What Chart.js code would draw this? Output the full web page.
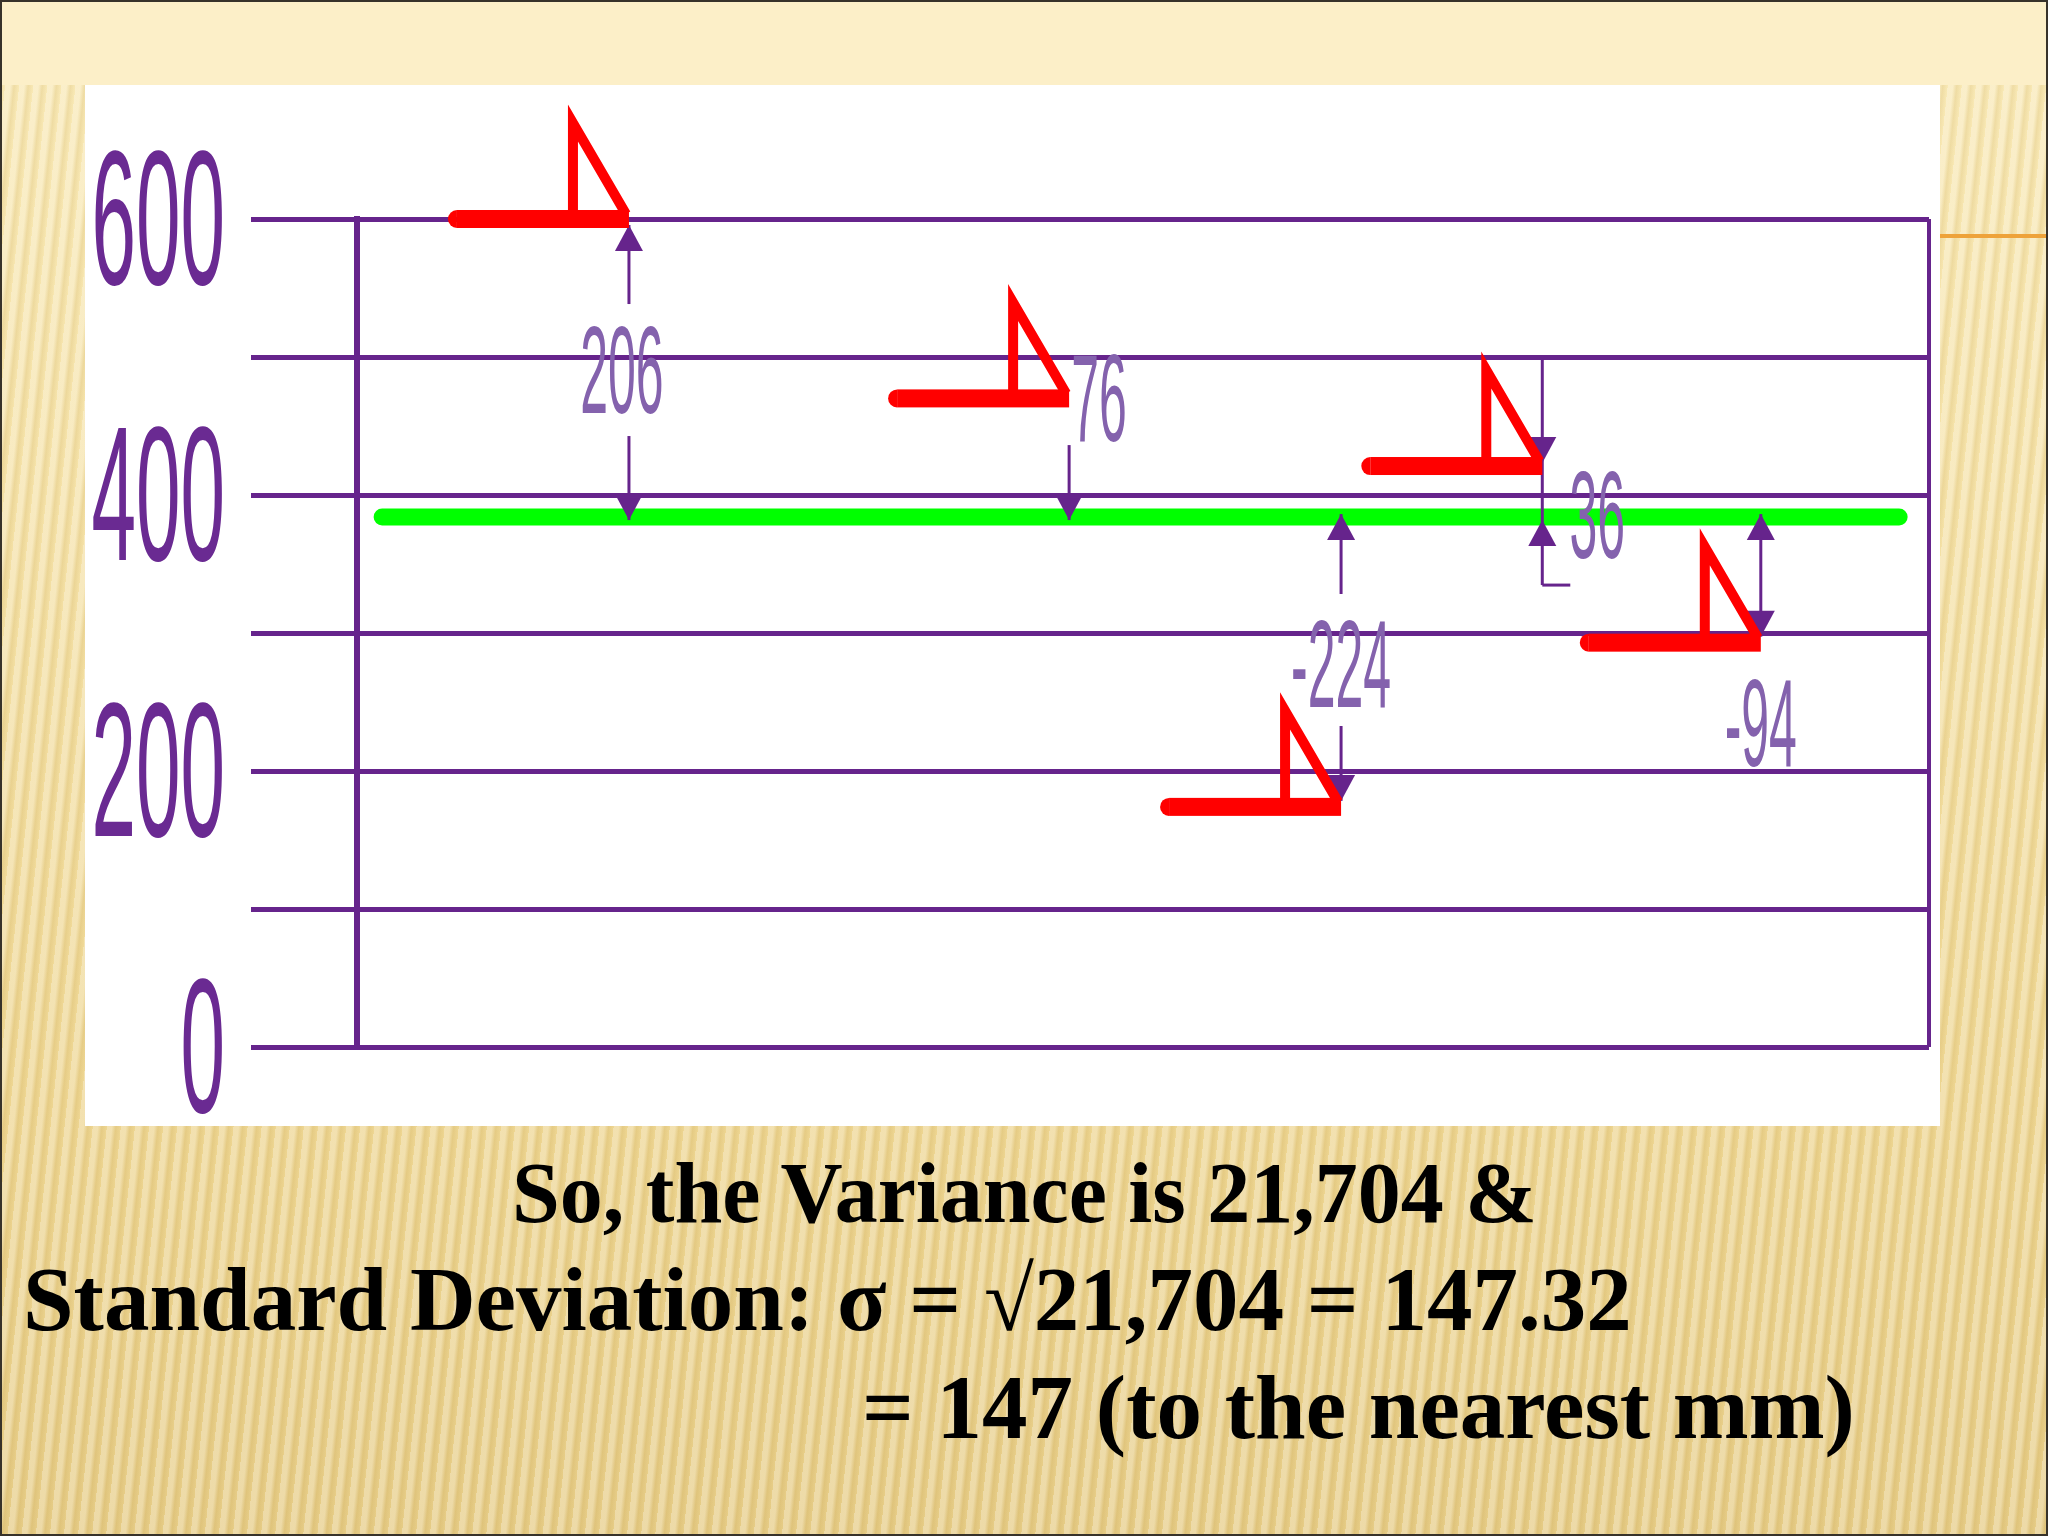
<!DOCTYPE html>
<html>
<head>
<meta charset="utf-8">
<script src="https://cdn.jsdelivr.net/npm/chart.js@4.4.1/dist/chart.umd.min.js"></script>
<style>
  html, body { margin: 0; padding: 0; }
  body {
    width: 2048px;
    height: 1536px;
    position: relative;
    overflow: hidden;
    background:
      repeating-linear-gradient(96deg, rgba(255,255,255,0.28) 0px, rgba(255,255,255,0.28) 5px, rgba(170,130,40,0.12) 9px, rgba(255,255,255,0) 14px),
      linear-gradient(180deg, #f9eab8 0px, #f5e2a8 500px, #eed692 1100px, #e6cc86 1536px);
  }
  #topband { position: absolute; left: 0; top: 0; width: 2048px; height: 85px; background: #fcefc8; }
  #orange { position: absolute; left: 1940px; top: 234px; width: 108px; height: 4px; background: #eea33a; }
  #panel { position: absolute; left: 85px; top: 85px; width: 1855px; height: 1041px; background: #ffffff; }
  #chart { position: absolute; left: 0; top: 0; }
  #frame { position: absolute; left: 0; top: 0; width: 2044px; height: 1532px; border: 2px solid #37322a; pointer-events: none; }
  .txt {
    position: absolute;
    font-family: "Liberation Serif", "Times New Roman", serif;
    font-weight: bold;
    white-space: nowrap;
    line-height: 1;
    color: #000;
  }
</style>
</head>
<body>
<div id="topband"></div>
<div id="orange"></div>
<div id="panel"></div>
<canvas id="chart" width="2048" height="1536"></canvas>
<div class="txt" style="left:512px; top:1150px; font-size:86px;">So, the Variance is 21,704 &amp;</div>
<div class="txt" style="left:23px; top:1254px; font-size:91px;">Standard Deviation: σ = √21,704 = 147.32</div>
<div class="txt" style="left:862px; top:1362px; font-size:91px;">= 147 (to the nearest mm)</div>
<div id="frame"></div>
<script>
// dog heights (mm) as drawn, position of each dog along the line (0-100)
const dogHeights = [600, 470, 174, 421, 293];
const dogPositions = [17.3, 45.3, 62.6, 75.4, 89.3];
const deviationLabels = ["206", "76", "-224", "36", "-94"];
const meanHeight = 384;
const yTickLabels = [0, 200, 400, 600];
const gridStep = 100;

const PURPLE = "#66248c";
const LABEL_PURPLE = "#8462ad";
const RED = "#ff0000";
const GREEN = "#00ff00";

// how each deviation arrow is laid out (pixels)
const arrowLayout = [
  { kind: "split", labelDx: -7 },
  { kind: "right", labelDx: 30, labelDy: -2 },
  { kind: "split", labelDx: 0 },
  { kind: "outside", labelDx: 55, labelDy: -4 },
  { kind: "below", labelDx: 0, labelDy: 79 },
];

const canvas = document.querySelector("#chart");

// tall, narrow digits like the stretched labels on the slide
const drawTall = (ctx, text, x, cy, size, sy, align, color, weight) => {
  ctx.save();
  ctx.translate(x, cy + 0.358 * size * sy);
  ctx.scale(1, sy);
  ctx.font = (weight || 400) + " " + size + 'px "Liberation Sans", Arial, sans-serif';
  ctx.textAlign = align;
  ctx.textBaseline = "alphabetic";
  ctx.fillStyle = color;
  ctx.fillText(text, 0, 0);
  ctx.restore();
};

const arrowHead = (ctx, x, tipY, dir) => {
  // dir -1 points up, 1 points down
  ctx.beginPath();
  ctx.moveTo(x, tipY);
  ctx.lineTo(x - 14, tipY - dir * 26);
  ctx.lineTo(x + 14, tipY - dir * 26);
  ctx.closePath();
  ctx.fill();
};

const vline = (ctx, x, y1, y2) => {
  ctx.beginPath();
  ctx.moveTo(x, y1);
  ctx.lineTo(x, y2);
  ctx.stroke();
};

const drawDog = (ctx, ax, by) => {
  ctx.save();
  ctx.fillStyle = RED;
  ctx.strokeStyle = RED;
  ctx.fillRect(ax - 172, by - 9, 172, 18);
  ctx.beginPath();
  ctx.arc(ax - 172, by, 9, Math.PI / 2, Math.PI * 1.5);
  ctx.fill();
  ctx.lineWidth = 10;
  ctx.lineJoin = "miter";
  ctx.miterLimit = 10;
  ctx.beginPath();
  ctx.moveTo(ax - 56, by - 5);
  ctx.lineTo(ax - 56, by - 96);
  ctx.lineTo(ax - 3, by - 5);
  ctx.stroke();
  ctx.restore();
};

const drawArrow = (ctx, x, d, m, layout, text) => {
  const s = Math.sign(m - d);
  ctx.save();
  ctx.strokeStyle = PURPLE;
  ctx.fillStyle = PURPLE;
  ctx.lineWidth = 3;
  const tipD = d + s * 6;
  const tipM = m + s * 3;
  const lx = x + (layout.labelDx || 0);
  let ly;
  if (layout.kind === "split") {
    const mid = (d + m) / 2;
    vline(ctx, x, tipD, mid - 64 * s);
    vline(ctx, x, mid + 68 * s, tipM);
    arrowHead(ctx, x, tipD, -s);
    arrowHead(ctx, x, tipM, s);
    ly = mid;
  } else if (layout.kind === "right") {
    vline(ctx, x, m - 72 * s, tipM);
    arrowHead(ctx, x, tipM, s);
    ly = d + layout.labelDy;
  } else if (layout.kind === "outside") {
    vline(ctx, x, d - 107 * s, m + 68 * s);
    ctx.beginPath();
    ctx.moveTo(x, m + 68 * s);
    ctx.lineTo(x + 28, m + 68 * s);
    ctx.stroke();
    arrowHead(ctx, x, d - 3 * s, s);
    arrowHead(ctx, x, tipM, -s);
    ly = m + layout.labelDy;
  } else {
    vline(ctx, x, tipD, tipM);
    arrowHead(ctx, x, tipD, -s);
    arrowHead(ctx, x, tipM, s);
    ly = d + layout.labelDy;
  }
  ctx.restore();
  drawTall(ctx, text, lx, ly, 50, 2.5, "center", LABEL_PURPLE, 400);
};

const dogPlugin = {
  id: "dogs",
  afterDatasetsDraw(chart) {
    const ctx = chart.ctx;
    const yScale = chart.scales.y;
    const meta = chart.getDatasetMeta(1);
    const m = yScale.getPixelForValue(meanHeight);
    meta.data.forEach((pt, i) => {
      drawArrow(ctx, pt.x, pt.y, m, arrowLayout[i], deviationLabels[i]);
    });
    meta.data.forEach((pt) => drawDog(ctx, pt.x, pt.y));
    // tall y tick labels
    yTickLabels.forEach((v) => {
      drawTall(ctx, String(v), 225, yScale.getPixelForValue(v) - 4, 80, 2.4, "right", "#6a2a92", 400);
    });
  },
};

const dogChart = new Chart(canvas, {
  type: "scatter",
  data: {
    datasets: [
      {
        type: "line",
        label: "mean",
        data: [
          { x: 1.6, y: meanHeight },
          { x: 98.1, y: meanHeight },
        ],
        borderColor: GREEN,
        borderWidth: 17,
        borderCapStyle: "round",
        pointRadius: 0,
        clip: false,
      },
      {
        label: "dogs",
        data: dogPositions.map((x, i) => ({ x: x, y: dogHeights[i] })),
        pointRadius: 0,
        clip: false,
      },
    ],
  },
  options: {
    responsive: false,
    animation: false,
    devicePixelRatio: 1,
    layout: { padding: { left: 85, top: 219, right: 119, bottom: 489 } },
    plugins: {
      legend: { display: false },
      tooltip: { enabled: false },
    },
    scales: {
      x: {
        type: "linear",
        min: 0,
        max: 100,
        ticks: { display: false, stepSize: 100 },
        grid: {
          color: (c) => (c.tick && c.tick.value === 100 ? PURPLE : "rgba(0,0,0,0)"),
          lineWidth: 4,
          drawTicks: false,
        },
        border: { display: false },
        afterFit: (s) => {
          s.height = 0;
        },
      },
      y: {
        min: 0,
        max: 600,
        ticks: { display: false, stepSize: gridStep },
        grid: {
          color: PURPLE,
          lineWidth: 5,
          tickLength: 106,
          tickColor: PURPLE,
          tickWidth: 5,
        },
        border: { color: PURPLE, width: 6 },
        afterFit: (s) => {
          s.width = 272;
        },
      },
    },
  },
  plugins: [dogPlugin],
});
</script>
</body>
</html>
